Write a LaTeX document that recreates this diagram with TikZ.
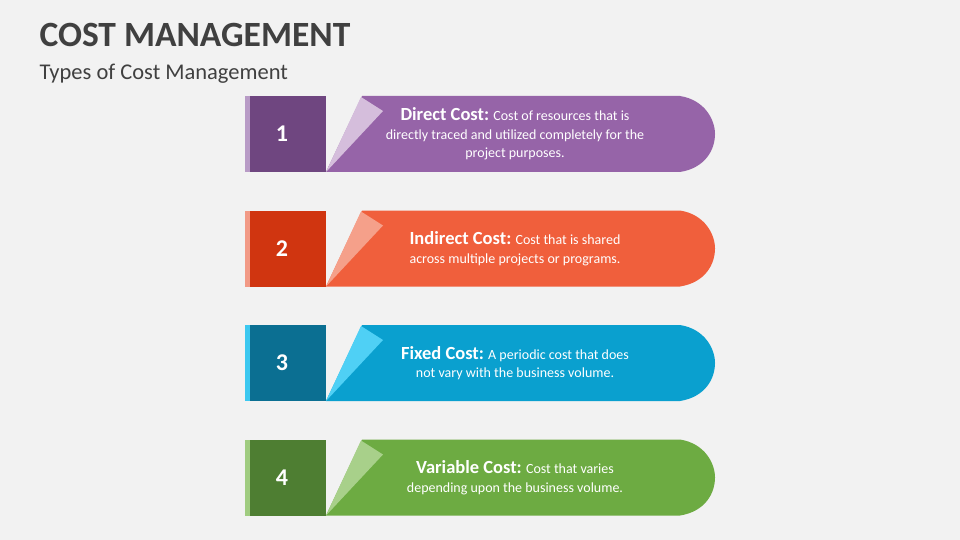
\documentclass[tikz,border=0pt]{standalone}
\usepackage{fontspec}
\setmainfont{Carlito}
\begin{document}
\begin{tikzpicture}[x=1pt,y=-1pt,
  num/.style={font=\bfseries\fontsize{24}{26}\selectfont,text=white},
  desc/.style={align=center,text=white,font=\fontsize{14}{18.5}\selectfont}]
\definecolor{bg}{HTML}{F2F2F2}
\fill[bg] (0,0) rectangle (960,540);
\useasboundingbox (0,0) rectangle (960,540);
\node[anchor=west,font=\bfseries\fontsize{35.5}{38}\selectfont,text=black!75] (title) at (36,35) {COST MANAGEMENT};
\node[anchor=west,font=\fontsize{22.5}{24}\selectfont,text=black!75] (sub) at (36,74) {Types of Cost Management};
\newcommand\costrow[8]{%
 \begin{scope}[shift={(0,#1)}]
 \definecolor{cs}{HTML}{#2}\definecolor{cq}{HTML}{#3}\definecolor{cb}{HTML}{#4}\definecolor{cf}{HTML}{#5}
 \fill[cs] (245,96) rectangle (251,172);
 \fill[cq] (250,96) rectangle (326,172);
 \node[num] (n#6) at (282,134) {#6};
 \fill[cb] (326,172) -- (362,96) -- (680,96) .. controls (705,100) and (715,120) .. (715,134) .. controls (715,150) and (705,168) .. (680,172) -- cycle;
 \fill[cf] (326,172) -- (361,97) -- (383,111) -- cycle;
 \node[desc] (t#6) at (515,134) {#7#8};
 \end{scope}}
\costrow{0}{B89BC6}{6F4680}{9664A8}{D5BEDC}{1}{\textbf{\fontsize{18.5}{19}\selectfont Direct Cost:} Cost of resources that is\\}{directly traced and utilized completely for the\\project purposes.}
\costrow{114.5}{F29A86}{D03510}{F05F3C}{F5A08A}{2}{\textbf{\fontsize{18.5}{19}\selectfont Indirect Cost:} Cost that is shared\\}{across multiple projects or programs.}
\costrow{229}{3CC8F0}{0B6F92}{0AA0CF}{4FD0F5}{3}{\textbf{\fontsize{18.5}{19}\selectfont Fixed Cost:} A periodic cost that does\\}{not vary with the business volume.}
\costrow{343.5}{A0CC80}{4E7E32}{6DAB42}{A8D08A}{4}{\textbf{\fontsize{18.5}{19}\selectfont Variable Cost:} Cost that varies\\}{depending upon the business volume.}
\end{tikzpicture}
\end{document}
